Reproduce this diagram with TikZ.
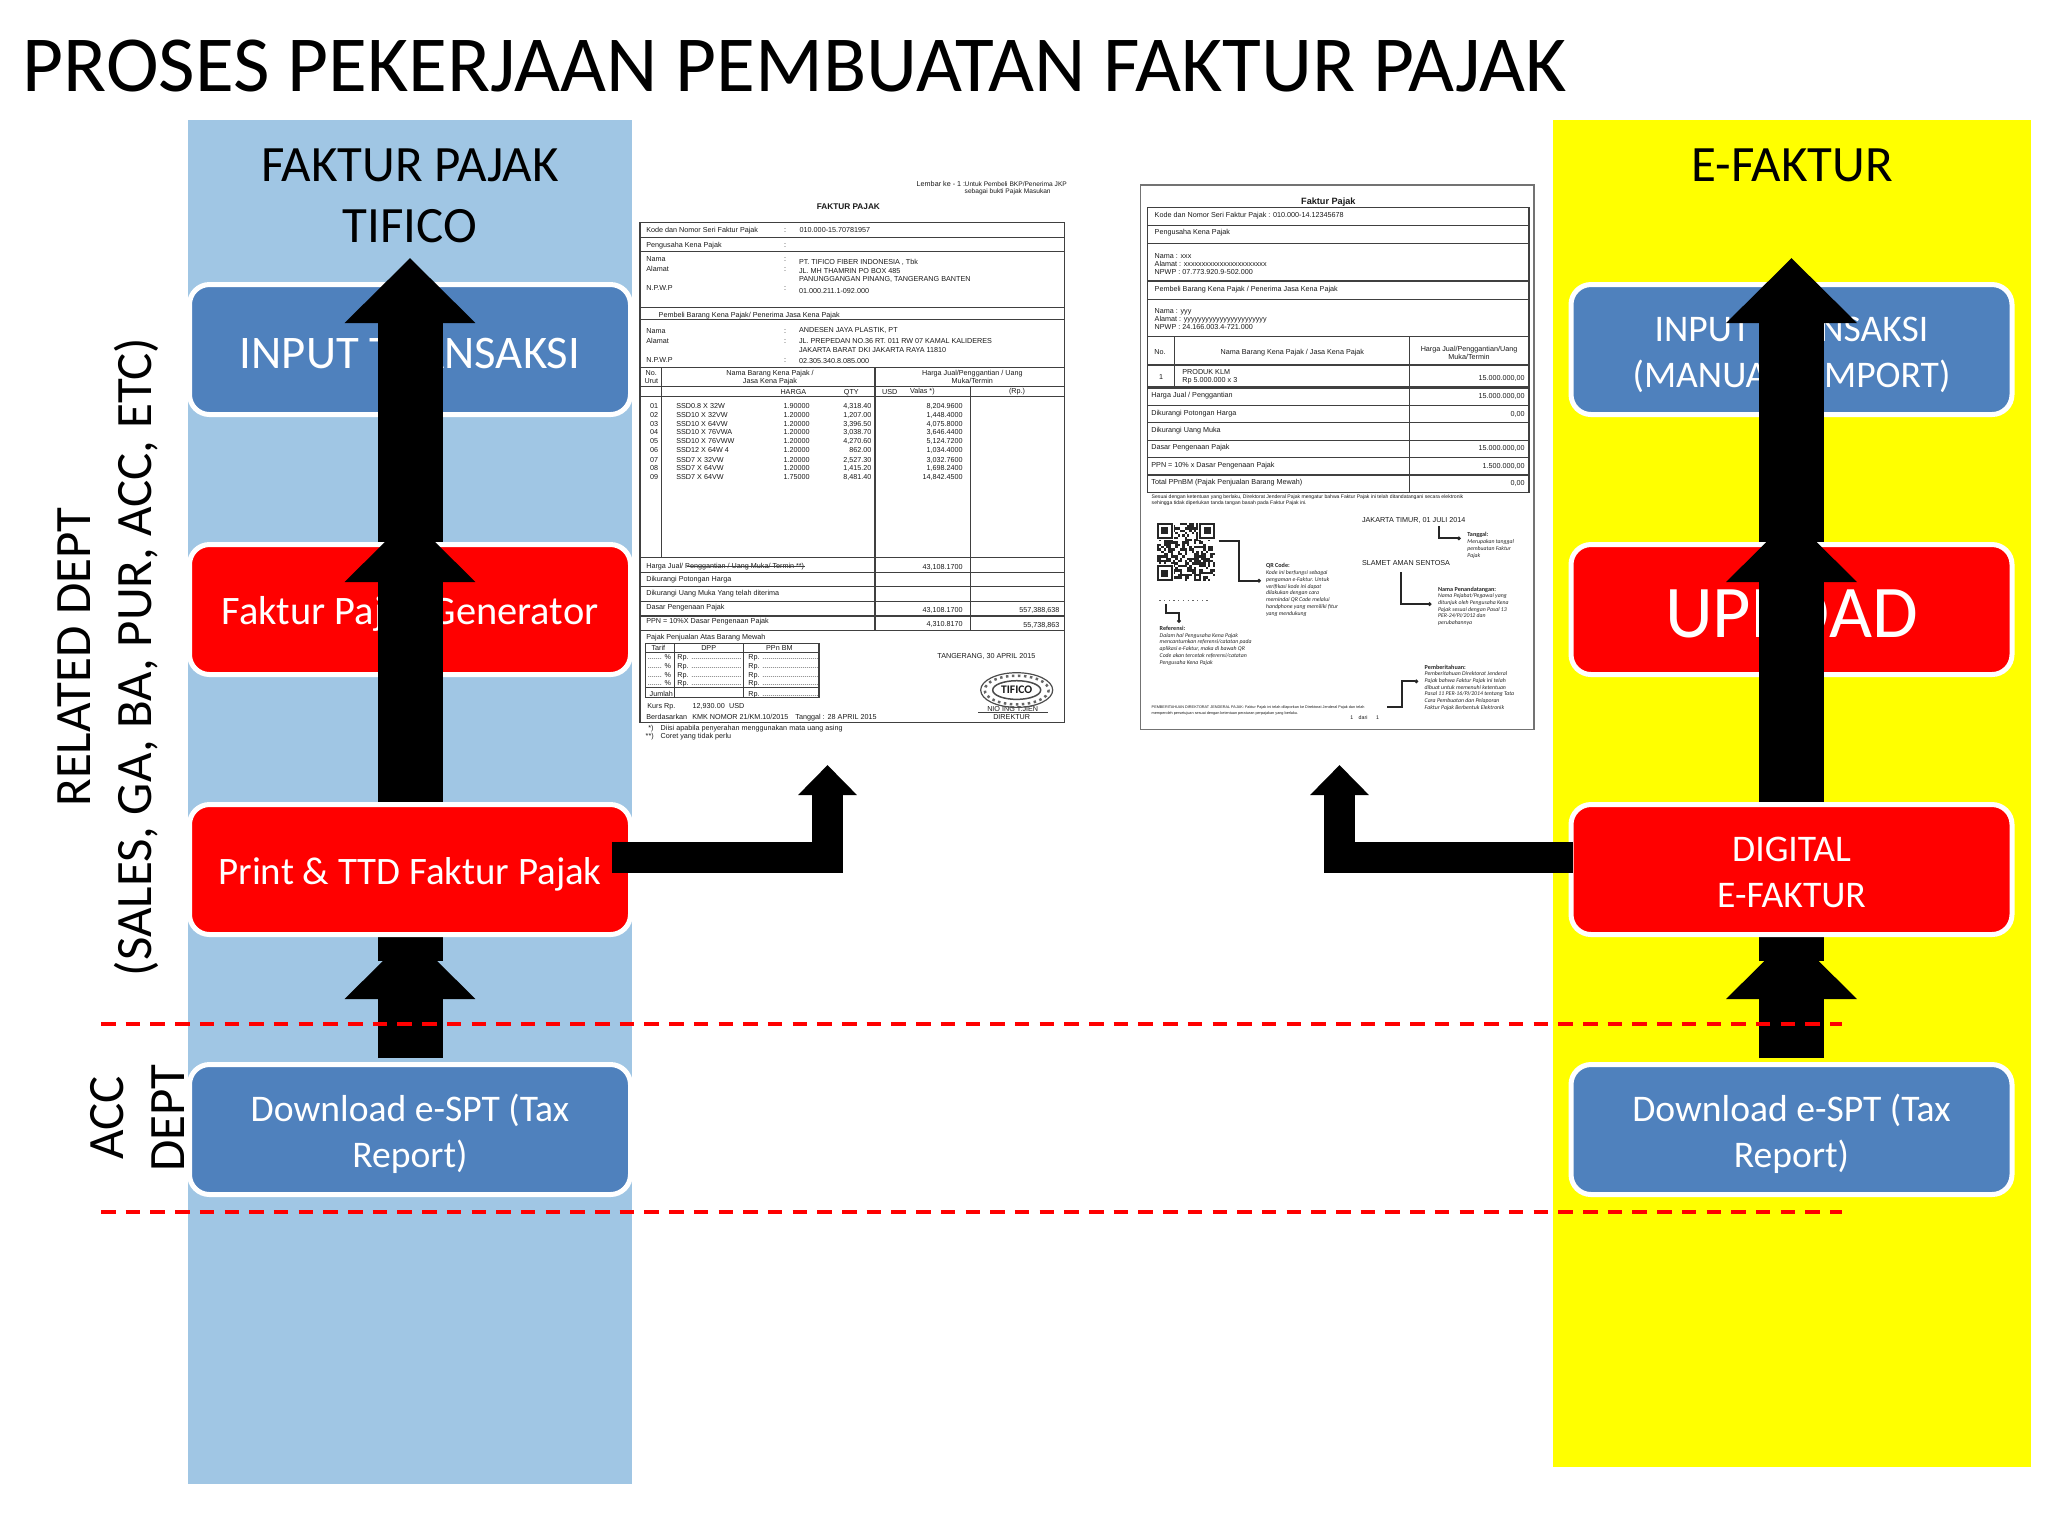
\documentclass[tikz,border=0pt]{standalone}
\usepackage{fontspec}
\setmainfont{Carlito}
\newfontfamily\scanfont{Liberation Sans}
\usetikzlibrary{arrows.meta}
\definecolor{panelblue}{HTML}{A0C6E4}
\definecolor{panelyellow}{HTML}{FFFF00}
\definecolor{boxblue}{HTML}{4F81BD}
\definecolor{boxred}{HTML}{FF0000}
% Box text sits a little under the middle of its box
\newcommand{\lowtext}[2][0.6mm]{\raisebox{-#1}[\height][\depth]{\begin{tabular}{@{}c@{}}#2\end{tabular}}}
\newcommand{\lbl}[1]{\makebox[13.77mm][l]{#1}:}
\tikzset{
	procbox/.style={draw=white, line width=0.5mm, rounded corners=2mm, minimum width=44.1mm, minimum height=13mm, text=white, inner sep=0pt},
	bluebox/.style={procbox, fill=boxblue},
	redbox/.style={procbox, fill=boxred},
	fatarrow/.style={line width=6.5mm, -{Triangle[length=6.5mm,width=12.7mm]}},
	bentarrow/.style={line width=3.1mm, -{Triangle[length=3mm,width=5.7mm]}},
	cutline/.style={boxred, line width=0.4mm, dash pattern=on 1.45mm off 1.02mm},
	docline/.style={black!75, line width=0.13mm},
	doctext/.style={inner sep=0pt, anchor=base west, text=black!90, font=\scanfont\fontsize{2.05}{2.5}\selectfont},
	docnum/.style={doctext, anchor=base east},
	docmid/.style={doctext, anchor=base},
	noteline/.style={inner sep=0pt, anchor=base west, text=black!85, font=\itshape\fontsize{1.65}{2}\selectfont},
	notehead/.style={noteline, font=\bfseries\fontsize{1.75}{2}\selectfont},
	callout/.style={black!85, line width=0.2mm, -{Circle[length=0.35mm]}},
}
\begin{document}
\begin{tikzpicture}[x=0.1mm, y=-0.1mm]
	\useasboundingbox (0,0) rectangle (2048,1536);
	
	% Title
	\node[inner sep=0pt, anchor=base west, font=\fontsize{22.6}{27}\selectfont] (title) at (22,91) {PROSES PEKERJAAN PEMBUATAN FAKTUR PAJAK};
	
	% Panels
	\fill[panelblue] (187.5,120) rectangle (631.5,1484);
	\fill[panelyellow] (1553,120) rectangle (2031,1467);
	\node[align=center, inner sep=0pt, font=\fontsize{14.5}{17.3}\selectfont] (tificohead) at (410,196) {FAKTUR PAJAK\\TIFICO};
	\node[inner sep=0pt, anchor=base, font=\fontsize{14.5}{17.3}\selectfont] (efakturhead) at (1792,181) {E-FAKTUR};
	
	% Side labels
	\node[rotate=90, align=center, inner sep=0pt, font=\fontsize{14.5}{17.3}\selectfont] (relateddept) at (108,657) {RELATED DEPT\\(SALES, GA, BA, PUR, ACC, ETC)};
	\node[rotate=90, align=center, inner sep=0pt, font=\fontsize{14.5}{17.3}\selectfont] (accdept) at (137.5,1118) {ACC\\DEPT};
	
	% Left column, each box hides the tail of the arrow that leaves it
	\coordinate (inputtip) at (410,258);
	\coordinate (gentail) at (410,701);
	\coordinate (gentip) at (410,517);
	\coordinate (printtail) at (410,961);
	\coordinate (printtip) at (410,934);
	\coordinate (spttail) at (410,1058);
	\node[bluebox, font=\fontsize{13.3}{16}\selectfont] (input) at (410,349.5) {\lowtext[0.75mm]{INPUT TRANSAKSI}};
	\draw[fatarrow] (gentail) -- (inputtip);
	\node[redbox, font=\fontsize{11.5}{13}\selectfont] (gen) at (410,609.5) {\lowtext{Faktur Pajak Generator}};
	\draw[fatarrow] (printtail) -- (gentip);
	\draw[fatarrow] (spttail) -- (printtip);
	\node[redbox, font=\fontsize{11.07}{13}\selectfont] (print) at (410,869.5) {\lowtext{Print \& TTD Faktur Pajak}};
	\node[bluebox, font=\fontsize{10.7}{13}\selectfont] (spt) at (410,1129.5) {\lowtext{Download e-SPT (Tax\\Report)}};
	
	% Right column
	\coordinate (rinputtip) at (1791.5,258);
	\coordinate (uptail) at (1791.5,701);
	\coordinate (uptip) at (1791.5,517);
	\coordinate (digitailtail) at (1791.5,961);
	\coordinate (digitip) at (1791.5,934);
	\coordinate (rspttail) at (1791.5,1058);
	\node[bluebox, font=\fontsize{10.7}{13}\selectfont] (rinput) at (1791.5,349.5) {\lowtext{INPUT TRANSAKSI\\(MANUAL / IMPORT)}};
	\draw[fatarrow] (uptail) -- (rinputtip);
	\node[redbox, font=\fontsize{21.15}{24}\selectfont] (upload) at (1791.5,609.5) {\lowtext[1.15mm]{UPLOAD}};
	\draw[fatarrow] (digitailtail) -- (uptip);
	\draw[fatarrow] (rspttail) -- (digitip);
	\node[redbox, font=\fontsize{10.7}{13}\selectfont] (digital) at (1791.5,869.5) {\lowtext{DIGITAL\\E-FAKTUR}};
	\node[bluebox, font=\fontsize{10.7}{13}\selectfont] (rspt) at (1791.5,1129.5) {\lowtext{Download e-SPT (Tax\\Report)}};
	
	% Bent arrows to the two documents
	\coordinate (printout) at (612,857.5);
	\coordinate (doctipa) at (827.5,765);
	\coordinate (digitalout) at (1573,857.5);
	\coordinate (doctipb) at (1339.5,765);
	\draw[bentarrow] (printout) -| (doctipa);
	\draw[bentarrow] (digitalout) -| (doctipb);
	
	% Department limits
	\coordinate (cutaL) at (101,1023.5);
	\coordinate (cutaR) at (1842,1023.5);
	\coordinate (cutbL) at (101,1211.5);
	\coordinate (cutbR) at (1842,1211.5);
	\draw[cutline] (cutaL) -- (cutaR);
	\draw[cutline] (cutbL) -- (cutbR);
	
	% Scan of the paper invoice
	\begin{scope}[shift={(630,170)}, x=0.033333mm, y=-0.033333mm]
		\draw[docline] (30,158) rectangle (1303,1658);
		\foreach \y in {202,245,412,449,592,650,680,1162,1208,1250,1295,1338,1382}
			\draw[docline] (30,\y) -- (1303,\y);
		\draw[docline] (95,592) -- (95,1162);
		\draw[docline] (735,592) -- (735,1382);
		\draw[docline] (1022,650) -- (1022,1382);
		
		\foreach \a/\b/\t [count=\n] in {
			858/48/{Lembar ke - 1 :}, 1002/48/{\fontsize{1.88}{2.5}\selectfont Untuk Pembeli BKP/Penerima JKP}, 1002/71/{\fontsize{1.88}{2.5}\selectfont sebagai bukti Pajak Masukan},
			47/188/{\lbl{Kode dan Nomor Seri Faktur Pajak}}, 507/188/{010.000-15.70781957},
			47/231/{\lbl{Pengusaha Kena Pajak}},
			47/275/{\lbl{Nama}}, 505/284/{PT. TIFICO FIBER  INDONESIA , Tbk},
			47/304/{\lbl{Alamat}}, 505/309/{JL. MH THAMRIN PO BOX 485}, 505/335/{PANUNGGANGAN PINANG, TANGERANG BANTEN},
			47/360/{\lbl{N.P.W.P}}, 505/369/{01.000.211.1-092.000},
			84/441/{Pembeli Barang Kena Pajak/ Penerima Jasa Kena Pajak},
			47/490/{\lbl{Nama}}, 505/488/{ANDESEN JAYA PLASTIK, PT},
			47/519/{\lbl{Alamat}}, 505/521/{JL. PREPEDAN NO.36 RT. 011 RW 07 KAMAL KALIDERES}, 505/547/{JAKARTA BARAT DKI JAKARTA RAYA 11810},
			47/576/{\lbl{N.P.W.P}}, 505/580/{02.305.340.8.085.000},
			47/1194/{Harga Jual/ Penggantian / Uang Muka/ Termin **)},
			47/1235/{Dikurangi Potongan Harga},
			47/1277/{Dikurangi Uang Muka Yang telah diterima},
			47/1319/{Dasar Pengenaan Pajak},
			47/1361/{PPN = 10\%X Dasar Pengenaan Pajak},
			47/1407/{Pajak Penjualan Atas Barang Mewah},
			920/1466/{TANGERANG,  30 APRIL 2015},
			50/1615/{Kurs Rp.}, 186/1615/{12,930.00}, 295/1615/{USD},
			47/1647/{Berdasarkan}, 185/1647/{KMK NOMOR 21/KM.10/2015}, 494/1647/{Tanggal :}, 591/1647/{28 APRIL 2015},
			53/1680/{*)}, 90/1680/{Diisi apabila penyerahan menggunakan mata uang asing},
			45/1705/{**)}, 90/1705/{Coret yang tidak perlu},
			57/1578/{Jumlah}, 353/1580/{Rp. ............................}}
			\node[doctext, name=fpa\n] at (\a,\b) {\t};
		\foreach \a/\b/\t [count=\n] in {
			64/615/{No.}, 64/640/{Urut}, 420/615/{Nama Barang Kena Pajak /}, 420/640/{Jasa Kena Pajak},
			1027/615/{Harga Jual/Penggantian / Uang}, 1027/640/{Muka/Termin},
			490/673/{HARGA}, 664/673/{QTY}, 779/673/{USD}, 877/670/{Valas *)}, 1161/670/{(Rp.)},
			85/1440/{Tarif}, 236/1440/{DPP}, 448/1440/{PPn BM}, 1145/1649/{DIREKTUR}, 1148/1623/{NIO ING T.JIEN}}
			\node[docmid, name=fpb\n] at (\a,\b) {\t};
		\foreach \a/\b/\t [count=\n] in {
			1000/1198/{43,108.1700}, 1000/1326/{43,108.1700}, 1290/1327/{557,388,638}, 1000/1370/{4,310.8170}, 1290/1371/{55,738,863}}
			\node[docnum, name=fpc\n] at (\a,\b) {\t};
		\node[docmid, name=fptitle, font=\scanfont\bfseries\fontsize{2.35}{3}\selectfont] at (655,118) {FAKTUR PAJAK};
		\draw[docline] (170,1190) -- (525,1190);
		
		% Item rows
		\foreach \y/\no/\item/\harga/\qty/\val [count=\n] in {
			716/01/{SSD0.8 X 32W}/1.90000/{4,318.40}/{8,204.9600},
			742/02/{SSD10 X 32VW}/1.20000/{1,207.00}/{1,448.4000},
			768/03/{SSD10 X 64VW}/1.20000/{3,396.50}/{4,075.8000},
			794/04/{SSD10 X 76VWA}/1.20000/{3,038.70}/{3,646.4400},
			821/05/{SSD10 X 76VWW}/1.20000/{4,270.60}/{5,124.7200},
			848/06/{SSD12 X 64W 4}/1.20000/{862.00}/{1,034.4000},
			876/07/{SSD7   X 32VW}/1.20000/{2,527.30}/{3,032.7600},
			902/08/{SSD7   X 64VW}/1.20000/{1,415.20}/{1,698.2400},
			928/09/{SSD7   X 64VW}/1.75000/{8,481.40}/{14,842.4500}} {
			\node[doctext, name=rowno\n] at (58,\y) {\no};
			\node[doctext, name=rowitem\n] at (137,\y) {\item};
			\node[docnum, name=rowharga\n] at (541,\y) {\harga};
			\node[docnum, name=rowqty\n] at (726,\y) {\qty};
			\node[docnum, name=rowval\n] at (1000,\y) {\val};
		}
		
		% Luxury tax box
		\draw[docline] (47,1420) rectangle (567,1583);
		\draw[docline] (47,1447) -- (567,1447);
		\draw[docline] (47,1553) -- (567,1553);
		\draw[docline] (133,1420) -- (133,1583);
		\draw[docline] (340,1420) -- (340,1583);
		\foreach \y [count=\n] in {1468,1494,1521,1547} {
			\node[docnum, name=ratep\n] at (125,\y) {....... \%};
			\node[doctext, name=rpa\n] at (140,\y) {Rp. .........................};
			\node[doctext, name=rpb\n] at (353,\y) {Rp. ............................};
		}
		
		% Stamp
		\draw[black!70, line width=0.12mm] (1160,1560) ellipse (108 and 52);
		\draw[black!60, line width=0.25mm, densely dotted] (1160,1560) ellipse (96 and 43);
		\draw[black!70, line width=0.15mm] (1160,1560) ellipse (72 and 28);
		\node[doctext, anchor=center, name=stampname, font=\bfseries\fontsize{3.3}{4}\selectfont] at (1160,1560) {TIFICO};
		\draw[docline] (1045,1627) -- (1253,1627);
	\end{scope}
	
	% Scan of the electronic invoice
	\begin{scope}[shift={(1130,170)}, x=0.033333mm, y=-0.033333mm]
		\draw[black!55, line width=0.15mm] (32,45) rectangle (1212,1678);
		\draw[docline] (52,113) rectangle (1197,968);
		\foreach \y in {166,220,333,388,500,585,706,758,811,862,915}
			\draw[docline] (52,\y) -- (1197,\y);
		\draw[docline, line width=0.25mm] (52,652) -- (1197,652);
		\draw[docline] (133,500) -- (133,652);
		\draw[docline] (838,500) -- (838,968);
		\node[docmid, name=fetitle, font=\scanfont\bfseries\fontsize{2.6}{3}\selectfont] at (595,103) {Faktur Pajak};
		
		\foreach \a/\b/\t [count=\n] in {
			72/141/{Kode dan Nomor Seri Faktur Pajak : 010.000-14.12345678},
			72/194/{Pengusaha Kena Pajak},
			72/264/{Nama : xxx}, 72/288/{Alamat : xxxxxxxxxxxxxxxxxxxxxxx}, 72/312/{NPWP : 07.773.920.9-502.000},
			72/363/{Pembeli Barang Kena Pajak / Penerima Jasa Kena Pajak},
			72/431/{Nama : yyy}, 72/455/{Alamat : yyyyyyyyyyyyyyyyyyyyyyy}, 72/479/{NPWP : 24.166.003.4-721.000},
			155/613/{PRODUK KLM}, 155/637/{Rp 5.000.000 x 3},
			62/682/{Harga Jual / Penggantian}, 62/735/{Dikurangi Potongan Harga}, 62/787/{Dikurangi Uang Muka},
			62/839/{Dasar Pengenaan Pajak}, 62/891/{PPN = 10\% x Dasar Pengenaan Pajak},
			62/943/{Total PPnBM (Pajak Penjualan Barang Mewah)},
			694/1058/{JAKARTA TIMUR, 01 JULI 2014}, 694/1186/{SLAMET AMAN SENTOSA}}
			\node[doctext, name=fea\n] at (\a,\b) {\t};
		\foreach \a/\b/\t [count=\n] in {
			90/553/{No.}, 487/554/{Nama Barang Kena Pajak / Jasa Kena Pajak},
			1017/544/{Harga Jual/Penggantian/Uang}, 1017/568/{Muka/Termin}, 93/628/{1}}
			\node[docmid, name=feb\n] at (\a,\b) {\t};
		\foreach \b/\t [count=\n] in {631/{15.000.000,00}, 684/{15.000.000,00}, 738/{0,00}, 842/{15.000.000,00}, 894/{1.500.000,00}, 946/{0,00}}
			\node[docnum, name=fec\n] at (1186,\b) {\t};
		\foreach \a/\b/\s/\t [count=\n] in {
			63/984/1.45/{Sesuai dengan ketentuan yang berlaku, Direktorat Jenderal Pajak mengatur bahwa Faktur Pajak ini telah ditandatangani secara elektronik},
			63/1004/1.45/{sehingga tidak diperlukan tanda tangan basah pada Faktur Pajak ini.},
			63/1615/1.08/{PEMBERITAHUAN DIREKTORAT JENDERAL PAJAK: Faktur Pajak ini telah dilaporkan ke Direktorat Jenderal Pajak dan telah},
			63/1633/1.08/{memperoleh persetujuan sesuai dengan ketentuan peraturan perpajakan yang berlaku.},
			658/1649/1.5/{1}, 684/1649/1.5/{dari}, 735/1649/1.5/{1}}
			\node[doctext, name=fed\n, font=\scanfont\fontsize{\s}{2}\selectfont] at (\a,\b) {\t};
		
		% Notes beside the invoice
		\foreach \a/\b/\t [count=\n] in {
			406/1192/{QR Code:}, 87/1380/{Referensi:}, 1010/1100/{Tanggal:}, 922/1263/{Nama Penandatangan:}, 882/1497/{Pemberitahuan:}}
			\node[notehead, name=notehd\n] at (\a,\b) {\t};
		\foreach \a/\b/\t [count=\n] in {
			406/1213/{Kode ini berfungsi sebagai}, 406/1234/{pengaman e-Faktur. Untuk}, 406/1254/{verifikasi kode ini dapat},
			406/1274/{dilakukan dengan cara}, 406/1295/{memindai QR Code melalui}, 406/1315/{handphone yang memiliki fitur}, 406/1335/{yang mendukung},
			87/1401/{Dalam hal Pengusaha Kena Pajak}, 87/1421/{mencantumkan referensi/catatan pada}, 87/1442/{aplikasi e-Faktur, maka di bawah QR},
			87/1462/{Code akan tercetak referensi/catatan}, 87/1482/{Pengusaha Kena Pajak},
			1010/1121/{Merupakan tanggal}, 1010/1141/{pembuatan Faktur}, 1010/1161/{Pajak},
			922/1283/{Nama Pejabat/Pegawai yang}, 922/1303/{ditunjuk oleh Pengusaha Kena}, 922/1323/{Pajak sesuai dengan Pasal 13},
			922/1343/{PER-24/PJ/2012 dan}, 922/1363/{perubahannya},
			882/1517/{Pemberitahuan Direktorat Jenderal}, 882/1537/{Pajak bahwa Faktur Pajak ini telah}, 882/1557/{dibuat untuk memenuhi ketentuan},
			882/1577/{Pasal 11 PER-16/PJ/2014 tentang Tata}, 882/1597/{Cara Pembuatan dan Pelaporan}, 882/1617/{Faktur Pajak Berbentuk Elektronik}}
			\node[noteline, name=notetx\n] at (\a,\b) {\t};
		
		\coordinate (qrout) at (266,1113);
		\coordinate (qrnote) at (392,1232);
		\coordinate (refout) at (107,1302);
		\coordinate (refnote) at (147,1358);
		\coordinate (dateout) at (927,1068);
		\coordinate (datenote) at (992,1105);
		\coordinate (signout) at (814,1206);
		\coordinate (signnote) at (904,1302);
		\coordinate (noticeout) at (772,1612);
		\coordinate (noticenote) at (864,1534);
		\draw[callout] (qrout) -- (328,1113) -- (328,1232) -- (qrnote);
		\draw[callout] (refout) -- (107,1328) -- (147,1328) -- (refnote);
		\draw[callout] (dateout) |- (datenote);
		\draw[callout] (signout) |- (signnote);
		\draw[callout] (noticeout) -- (816,1612) -- (816,1534) -- (noticenote);
		\draw[black!60, line width=0.12mm, densely dotted] (88,1292) -- (240,1292);
		
		% QR code
		\pgfmathsetseed{4711}
		\foreach \i in {0,...,24}
			\foreach \j in {0,...,24} {
				\pgfmathtruncatemacro{\qrbit}{random(0,1)}
				\ifnum\qrbit=1
					\fill[black!85] (80+7*\i,1058+7*\j) rectangle +(7,7);
				\fi
			}
		\foreach \a/\b in {80/1058, 207/1058, 80/1185} {
			\fill[white] (\a-3,\b-3) rectangle +(55,55);
			\fill[black!85] (\a,\b) rectangle +(49,49);
			\fill[white] (\a+7,\b+7) rectangle +(35,35);
			\fill[black!85] (\a+14,\b+14) rectangle +(21,21);
		}
	\end{scope}
\end{tikzpicture}
\end{document}
